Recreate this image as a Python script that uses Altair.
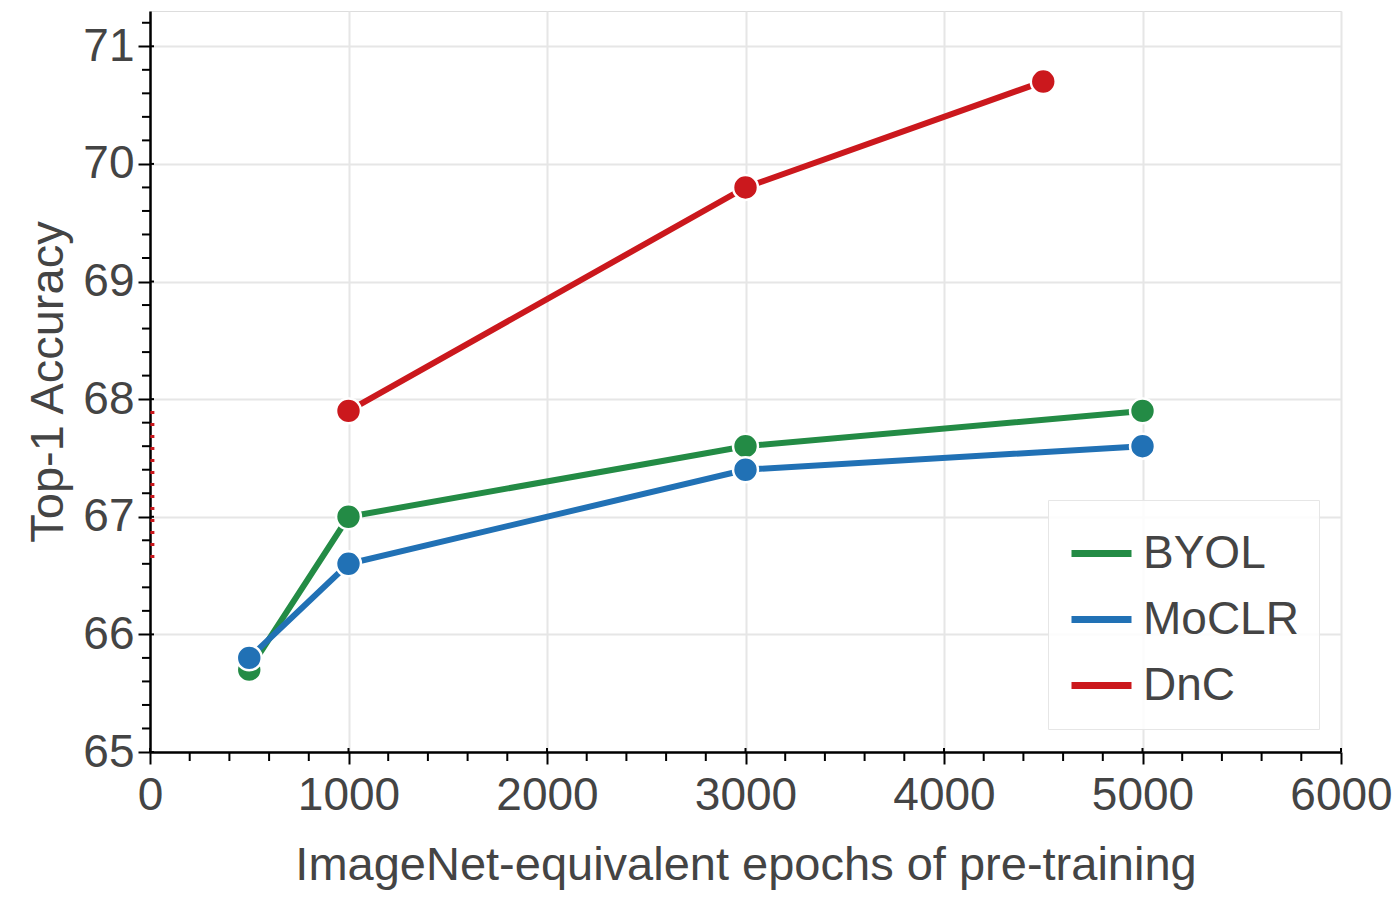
import altair as alt
import pandas as pd

# ---- data ----
series = ["BYOL", "MoCLR", "DnC"]
colors = ["#238b45", "#2171b5", "#cb181d"]

byol_epochs = [500, 1000, 3000, 5000]
byol_acc = [65.7, 67.0, 67.6, 67.9]
moclr_epochs = [500, 1000, 3000, 5000]
moclr_acc = [65.8, 66.6, 67.4, 67.6]
dnc_epochs = [1000, 3000, 4500]
dnc_acc = [67.9, 69.8, 70.7]

gap_epoch = [12]
gap_low = [66.6]
gap_high = [67.9]

x_ticks = [0, 1000, 2000, 3000, 4000, 5000, 6000]
y_ticks = [65, 66, 67, 68, 69, 70, 71]
x_minor = [v for v in range(200, 6000, 200) if v % 1000 != 0]
y_minor = [round(65 + 0.2 * i, 1) for i in range(1, 32) if i % 5 != 0]

x_title = "ImageNet-equivalent epochs of pre-training"
y_title = "Top-1 Accuracy"

# ---- tables ----
rows = []
for name, ep, ac in [("BYOL", byol_epochs, byol_acc),
                     ("MoCLR", moclr_epochs, moclr_acc),
                     ("DnC", dnc_epochs, dnc_acc)]:
    for e, a in zip(ep, ac):
        rows.append({"method": name, "epochs": e, "acc": a, "order": series.index(name)})
df = pd.DataFrame(rows)
gap_df = pd.DataFrame({"epochs": gap_epoch, "low": gap_low, "high": gap_high})
xminor_df = pd.DataFrame({"epochs": x_minor})
yminor_df = pd.DataFrame({"acc": y_minor})
xmajor_df = pd.DataFrame({"epochs": x_ticks})
ymajor_df = pd.DataFrame({"acc": y_ticks})

FONT = "Liberation Sans"
TXT = "#444444"
GRID = "#e6e6e6"

xscale = alt.Scale(domain=[0, 6000], nice=False)
yscale = alt.Scale(domain=[65, 71.3], nice=False)
cscale = alt.Scale(domain=series, range=colors)

xaxis = alt.Axis(values=x_ticks, title=x_title, grid=True, gridColor=GRID, gridWidth=2,
                 domainColor="black", domainWidth=2.5, tickColor="black", tickWidth=2,
                 tickSize=12, labelFontSize=46, labelFont=FONT, labelColor=TXT,
                 labelPadding=9, labelFlush=False, titleFont=FONT, titleFontSize=47,
                 titleFontWeight="normal", titleColor=TXT, titlePadding=24, format="d")
yaxis = alt.Axis(values=y_ticks, title=y_title, grid=True, gridColor=GRID, gridWidth=2,
                 domainColor="black", domainWidth=2.5, tickColor="black", tickWidth=2,
                 tickSize=12, labelFontSize=46, labelFont=FONT, labelColor=TXT,
                 labelPadding=4, labelFlush=False, titleFont=FONT, titleFontSize=47,
                 titleFontWeight="normal", titleColor=TXT, titlePadding=10, format="d")

lines = alt.Chart(df).mark_line(strokeWidth=6).encode(
    x=alt.X("epochs:Q", scale=xscale, axis=xaxis),
    y=alt.Y("acc:Q", scale=yscale, axis=yaxis),
    color=alt.Color("method:N", scale=cscale, sort=series,
                    legend=alt.Legend(orient="none", legendX=898, legendY=489, title=None,
                                      symbolType="stroke", symbolSize=3600,
                                      symbolStrokeWidth=7, labelFontSize=46,
                                      labelFont=FONT, labelColor=TXT,
                                      fillColor="rgba(255,255,255,0.85)",
                                      strokeColor=GRID, padding=20, rowPadding=9,
                                      labelOffset=8)),
    order=alt.Order("epochs:Q"),
)

points = alt.Chart(df).mark_point(filled=True, size=620, stroke="white", strokeWidth=2.5,
                                  opacity=1).encode(
    x=alt.X("epochs:Q", scale=xscale),
    y=alt.Y("acc:Q", scale=yscale),
    fill=alt.Fill("method:N", scale=cscale, legend=None),
    order=alt.Order("order:Q"),
)

gap = alt.Chart(gap_df).mark_rule(color="#cb181d", strokeWidth=4, strokeDash=[3, 9],
                                  strokeCap="butt").encode(
    x=alt.X("epochs:Q", scale=xscale),
    y=alt.Y("high:Q", scale=yscale),
    y2="low:Q",
)

xminor = alt.Chart(xminor_df).mark_rule(color="black", strokeWidth=2).encode(
    x=alt.X("epochs:Q", scale=xscale),
    y=alt.value(742), y2=alt.value(750),
)
yminor = alt.Chart(yminor_df).mark_rule(color="black", strokeWidth=2).encode(
    y=alt.Y("acc:Q", scale=yscale),
    x=alt.value(-8), x2=alt.value(0),
)
xmajor_in = alt.Chart(xmajor_df).mark_rule(color="black", strokeWidth=2).encode(
    x=alt.X("epochs:Q", scale=xscale),
    y=alt.value(737), y2=alt.value(741),
)
ymajor_in = alt.Chart(ymajor_df).mark_rule(color="black", strokeWidth=2).encode(
    y=alt.Y("acc:Q", scale=yscale),
    x=alt.value(0), x2=alt.value(4),
)

chart = alt.layer(lines, points, xminor, yminor, xmajor_in, ymajor_in, gap).properties(
    width=1191, height=741,
    autosize=alt.AutoSizeParams(type="none"),
    padding={"left": 142, "top": 3, "right": 51, "bottom": 140},
).configure_view(stroke=GRID, strokeWidth=2).configure(background="white")

chart.save("out.html", embed_options={"renderer": "svg", "actions": False})
